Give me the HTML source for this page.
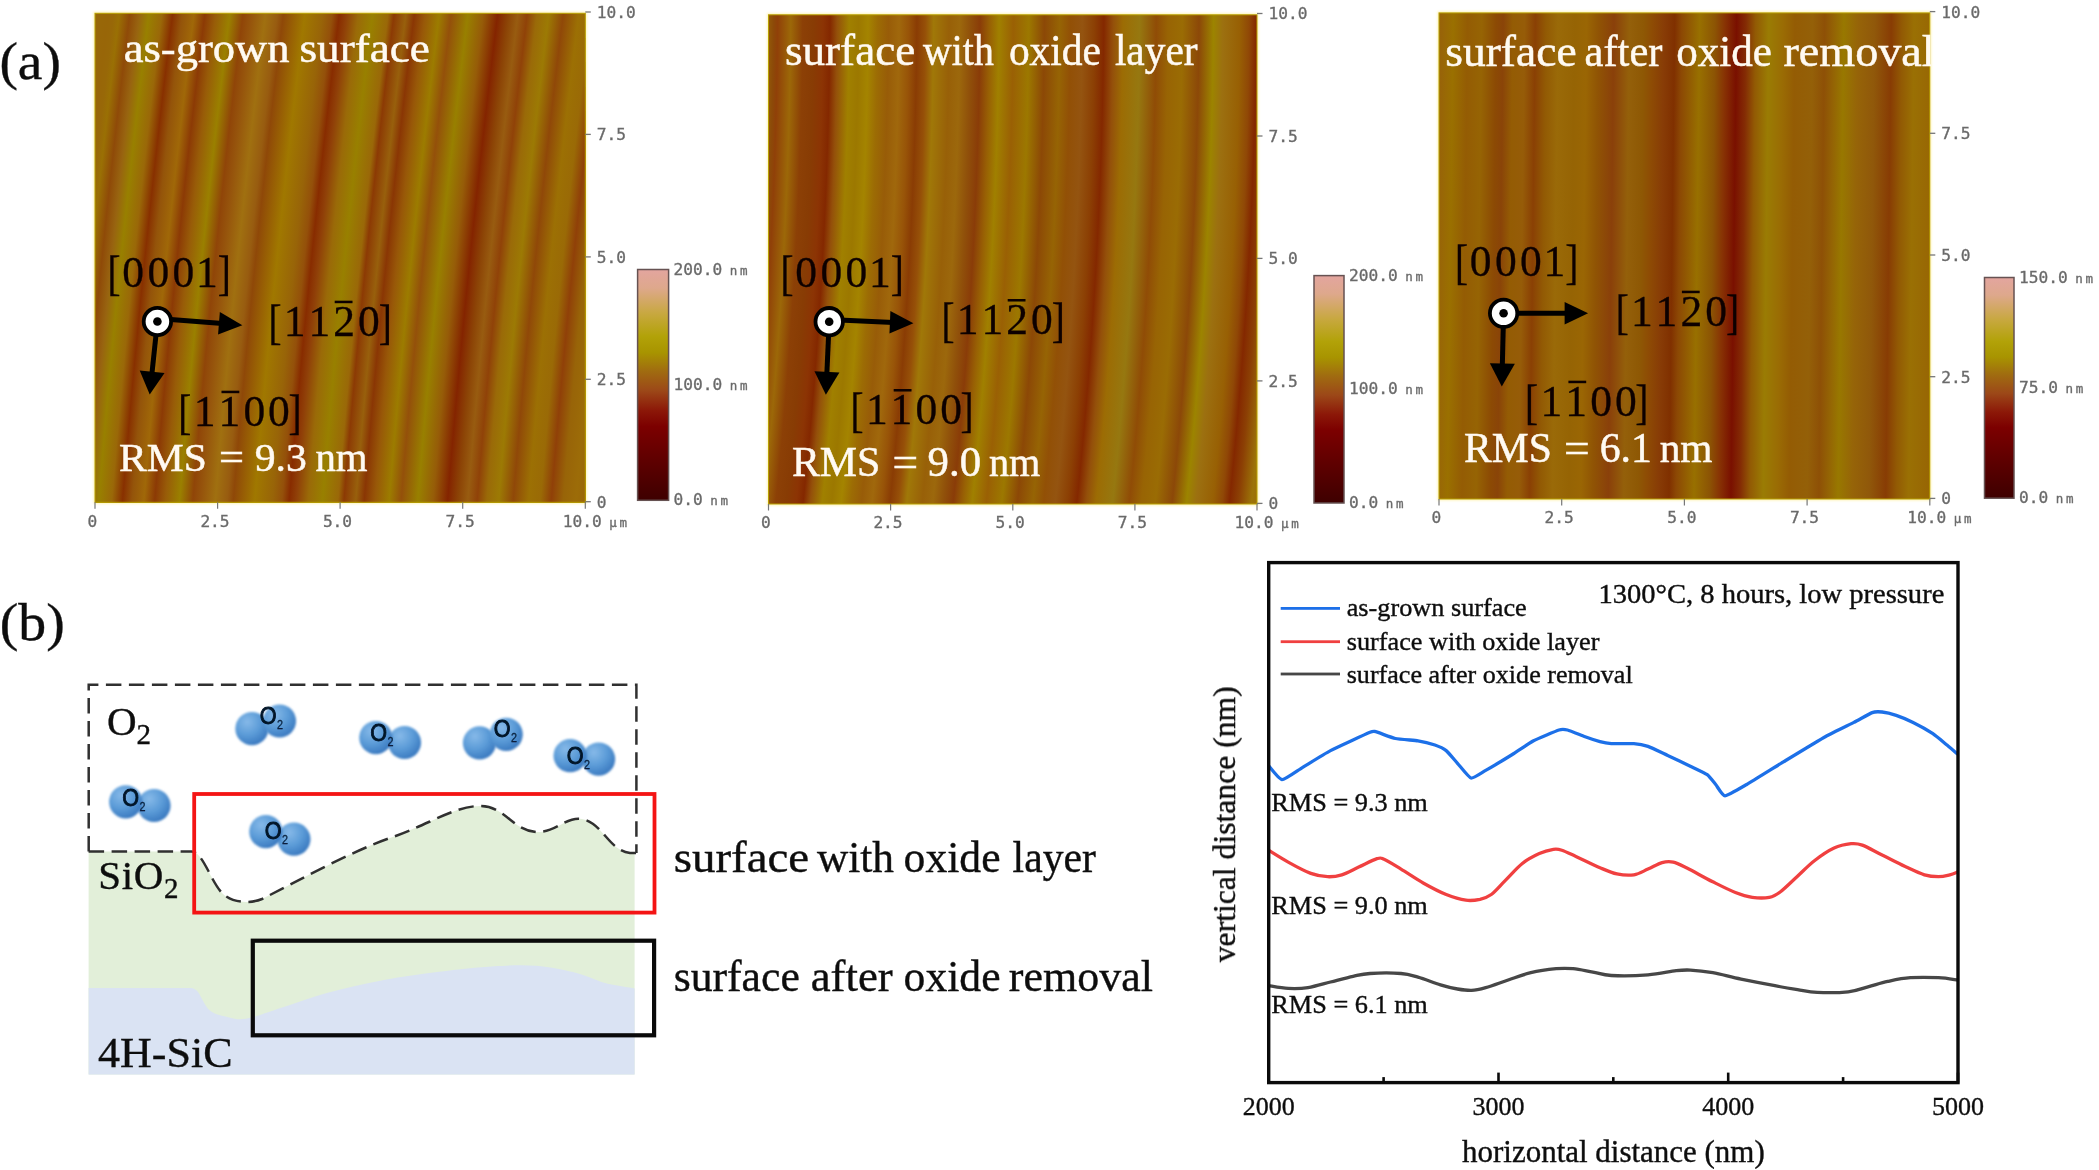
<!DOCTYPE html>
<html><head><meta charset="utf-8"><title>figure</title>
<style>
html,body{margin:0;padding:0;background:#fff;}
body{width:2099px;height:1170px;overflow:hidden;}
svg{display:block}
.se{font-family:"Liberation Serif",serif;}
.mo{font-family:"DejaVu Sans Mono","Liberation Mono",monospace;}
.sa{font-family:"Liberation Sans",sans-serif;}
</style></head><body>
<svg width="2099" height="1170" viewBox="0 0 2099 1170">
<defs>
<filter id="soft" x="-5%" y="-5%" width="110%" height="110%"><feGaussianBlur stdDeviation="1.2"/></filter>
<filter id="tb" x="-5%" y="-20%" width="110%" height="140%"><feGaussianBlur stdDeviation="0.55"/></filter>
<filter id="tbm" x="-5%" y="-20%" width="110%" height="140%"><feGaussianBlur stdDeviation="0.65"/></filter>
<filter id="tb2" x="-5%" y="-20%" width="110%" height="140%"><feGaussianBlur stdDeviation="0.8"/></filter>
<linearGradient id="afm1" gradientUnits="userSpaceOnUse" x1="40.00" y1="0" x2="635.00" y2="0"><stop offset="0.0000" stop-color="#986808"/><stop offset="0.0336" stop-color="#9a6c06"/><stop offset="0.0639" stop-color="#986808"/><stop offset="0.0840" stop-color="#986608"/><stop offset="0.0931" stop-color="#986808"/><stop offset="0.1025" stop-color="#9a7004"/><stop offset="0.1200" stop-color="#8f4a08"/><stop offset="0.1361" stop-color="#986410"/><stop offset="0.1521" stop-color="#988000"/><stop offset="0.1741" stop-color="#9a6808"/><stop offset="0.1921" stop-color="#883000"/><stop offset="0.2081" stop-color="#94540a"/><stop offset="0.2282" stop-color="#a06808"/><stop offset="0.2462" stop-color="#8c3a05"/><stop offset="0.2642" stop-color="#985c08"/><stop offset="0.2882" stop-color="#9a8000"/><stop offset="0.3103" stop-color="#904508"/><stop offset="0.3244" stop-color="#96540c"/><stop offset="0.3482" stop-color="#a07010"/><stop offset="0.3682" stop-color="#985c10"/><stop offset="0.3783" stop-color="#8f4808"/><stop offset="0.3963" stop-color="#986004"/><stop offset="0.4143" stop-color="#a07800"/><stop offset="0.4444" stop-color="#986408"/><stop offset="0.4603" stop-color="#94500a"/><stop offset="0.4723" stop-color="#882c00"/><stop offset="0.4844" stop-color="#904008"/><stop offset="0.5042" stop-color="#9a6a08"/><stop offset="0.5282" stop-color="#988000"/><stop offset="0.5543" stop-color="#9a6808"/><stop offset="0.5642" stop-color="#8c3a04"/><stop offset="0.5842" stop-color="#98600c"/><stop offset="0.5983" stop-color="#8a3604"/><stop offset="0.6163" stop-color="#985808"/><stop offset="0.6403" stop-color="#9c7c00"/><stop offset="0.6603" stop-color="#94500a"/><stop offset="0.6884" stop-color="#988000"/><stop offset="0.7143" stop-color="#965c08"/><stop offset="0.7385" stop-color="#842400"/><stop offset="0.7563" stop-color="#8c4406"/><stop offset="0.7724" stop-color="#985c10"/><stop offset="0.7882" stop-color="#904208"/><stop offset="0.8045" stop-color="#9a6a08"/><stop offset="0.8245" stop-color="#9c7a04"/><stop offset="0.8486" stop-color="#904808"/><stop offset="0.8745" stop-color="#9c7004"/><stop offset="0.8946" stop-color="#9a6a06"/><stop offset="0.9126" stop-color="#904008"/><stop offset="0.9328" stop-color="#986408"/><stop offset="0.9546" stop-color="#9c6c08"/><stop offset="0.9748" stop-color="#986408"/><stop offset="1.0000" stop-color="#986408"/></linearGradient>
<linearGradient id="afm1_0" href="#afm1" gradientTransform="matrix(1 0 -0.12301 1 20.005 0)"/>
<linearGradient id="afm1_1" href="#afm1" gradientTransform="matrix(1 0 -0.12089 1 19.925 0)"/>
<linearGradient id="afm1_2" href="#afm1" gradientTransform="matrix(1 0 -0.11876 1 19.793 0)"/>
<linearGradient id="afm1_3" href="#afm1" gradientTransform="matrix(1 0 -0.11664 1 19.609 0)"/>
<linearGradient id="afm1_4" href="#afm1" gradientTransform="matrix(1 0 -0.11452 1 19.373 0)"/>
<linearGradient id="afm1_5" href="#afm1" gradientTransform="matrix(1 0 -0.11239 1 19.085 0)"/>
<linearGradient id="afm1_6" href="#afm1" gradientTransform="matrix(1 0 -0.11027 1 18.745 0)"/>
<linearGradient id="afm1_7" href="#afm1" gradientTransform="matrix(1 0 -0.10814 1 18.353 0)"/>
<linearGradient id="afm1_8" href="#afm1" gradientTransform="matrix(1 0 -0.10602 1 17.910 0)"/>
<linearGradient id="afm1_9" href="#afm1" gradientTransform="matrix(1 0 -0.10389 1 17.414 0)"/>
<linearGradient id="afm1_10" href="#afm1" gradientTransform="matrix(1 0 -0.10177 1 16.866 0)"/>
<linearGradient id="afm1_11" href="#afm1" gradientTransform="matrix(1 0 -0.09965 1 16.267 0)"/>
<linearGradient id="afm1_12" href="#afm1" gradientTransform="matrix(1 0 -0.09752 1 15.615 0)"/>
<linearGradient id="afm1_13" href="#afm1" gradientTransform="matrix(1 0 -0.09540 1 14.912 0)"/>
<linearGradient id="afm1_14" href="#afm1" gradientTransform="matrix(1 0 -0.09327 1 14.156 0)"/>
<linearGradient id="afm1_15" href="#afm1" gradientTransform="matrix(1 0 -0.09115 1 13.349 0)"/>
<linearGradient id="afm1_16" href="#afm1" gradientTransform="matrix(1 0 -0.08902 1 12.490 0)"/>
<linearGradient id="afm1_17" href="#afm1" gradientTransform="matrix(1 0 -0.08690 1 11.579 0)"/>
<linearGradient id="afm1_18" href="#afm1" gradientTransform="matrix(1 0 -0.08478 1 10.616 0)"/>
<linearGradient id="afm1_19" href="#afm1" gradientTransform="matrix(1 0 -0.08265 1 9.600 0)"/>
<linearGradient id="afm2" gradientUnits="userSpaceOnUse" x1="715.00" y1="0" x2="1305.00" y2="0"><stop offset="0.0000" stop-color="#986008"/><stop offset="0.0339" stop-color="#9c7404"/><stop offset="0.0593" stop-color="#8c4006"/><stop offset="0.0797" stop-color="#986408"/><stop offset="0.0934" stop-color="#8c4a08"/><stop offset="0.1005" stop-color="#904008"/><stop offset="0.1227" stop-color="#9c6808"/><stop offset="0.1429" stop-color="#8c4006"/><stop offset="0.1610" stop-color="#883c04"/><stop offset="0.1773" stop-color="#8c3404"/><stop offset="0.1893" stop-color="#842800"/><stop offset="0.2014" stop-color="#94500a"/><stop offset="0.2217" stop-color="#a08000"/><stop offset="0.2378" stop-color="#9c7800"/><stop offset="0.2539" stop-color="#a48400"/><stop offset="0.2700" stop-color="#9c6c04"/><stop offset="0.2883" stop-color="#985c08"/><stop offset="0.3064" stop-color="#a0680c"/><stop offset="0.3225" stop-color="#985408"/><stop offset="0.3366" stop-color="#8a3c04"/><stop offset="0.3508" stop-color="#965008"/><stop offset="0.3649" stop-color="#a07808"/><stop offset="0.3912" stop-color="#986008"/><stop offset="0.4093" stop-color="#9c680c"/><stop offset="0.4275" stop-color="#90500a"/><stop offset="0.4437" stop-color="#8a3c08"/><stop offset="0.4598" stop-color="#986004"/><stop offset="0.4759" stop-color="#a08000"/><stop offset="0.5000" stop-color="#9a6004"/><stop offset="0.5263" stop-color="#9c7800"/><stop offset="0.5525" stop-color="#8c4806"/><stop offset="0.5788" stop-color="#966404"/><stop offset="0.5969" stop-color="#925006"/><stop offset="0.6171" stop-color="#945410"/><stop offset="0.6373" stop-color="#8c4004"/><stop offset="0.6534" stop-color="#842800"/><stop offset="0.6695" stop-color="#94500a"/><stop offset="0.6858" stop-color="#9c6c04"/><stop offset="0.7141" stop-color="#967810"/><stop offset="0.7422" stop-color="#904c06"/><stop offset="0.7624" stop-color="#986404"/><stop offset="0.7866" stop-color="#9a6c04"/><stop offset="0.8149" stop-color="#8c4808"/><stop offset="0.8392" stop-color="#9c8400"/><stop offset="0.8553" stop-color="#9c7010"/><stop offset="0.8836" stop-color="#986004"/><stop offset="0.8997" stop-color="#904806"/><stop offset="0.9119" stop-color="#842800"/><stop offset="0.9271" stop-color="#8c4004"/><stop offset="0.9492" stop-color="#9c7408"/><stop offset="0.9746" stop-color="#986408"/><stop offset="1.0000" stop-color="#986408"/></linearGradient>
<linearGradient id="afm2_0" href="#afm2" gradientTransform="matrix(1 0 -0.00834 1 3.487 0)"/>
<linearGradient id="afm2_1" href="#afm2" gradientTransform="matrix(1 0 -0.01329 1 3.681 0)"/>
<linearGradient id="afm2_2" href="#afm2" gradientTransform="matrix(1 0 -0.01824 1 3.997 0)"/>
<linearGradient id="afm2_3" href="#afm2" gradientTransform="matrix(1 0 -0.02320 1 4.434 0)"/>
<linearGradient id="afm2_4" href="#afm2" gradientTransform="matrix(1 0 -0.02815 1 4.992 0)"/>
<linearGradient id="afm2_5" href="#afm2" gradientTransform="matrix(1 0 -0.03310 1 5.671 0)"/>
<linearGradient id="afm2_6" href="#afm2" gradientTransform="matrix(1 0 -0.03806 1 6.471 0)"/>
<linearGradient id="afm2_7" href="#afm2" gradientTransform="matrix(1 0 -0.04301 1 7.393 0)"/>
<linearGradient id="afm2_8" href="#afm2" gradientTransform="matrix(1 0 -0.04796 1 8.435 0)"/>
<linearGradient id="afm2_9" href="#afm2" gradientTransform="matrix(1 0 -0.05292 1 9.599 0)"/>
<linearGradient id="afm2_10" href="#afm2" gradientTransform="matrix(1 0 -0.05787 1 10.884 0)"/>
<linearGradient id="afm2_11" href="#afm2" gradientTransform="matrix(1 0 -0.06283 1 12.290 0)"/>
<linearGradient id="afm2_12" href="#afm2" gradientTransform="matrix(1 0 -0.06778 1 13.818 0)"/>
<linearGradient id="afm2_13" href="#afm2" gradientTransform="matrix(1 0 -0.07273 1 15.466 0)"/>
<linearGradient id="afm2_14" href="#afm2" gradientTransform="matrix(1 0 -0.07769 1 17.236 0)"/>
<linearGradient id="afm2_15" href="#afm2" gradientTransform="matrix(1 0 -0.08264 1 19.126 0)"/>
<linearGradient id="afm2_16" href="#afm2" gradientTransform="matrix(1 0 -0.08759 1 21.138 0)"/>
<linearGradient id="afm2_17" href="#afm2" gradientTransform="matrix(1 0 -0.09255 1 23.272 0)"/>
<linearGradient id="afm2_18" href="#afm2" gradientTransform="matrix(1 0 -0.09750 1 25.526 0)"/>
<linearGradient id="afm2_19" href="#afm2" gradientTransform="matrix(1 0 -0.10245 1 27.901 0)"/>
<linearGradient id="afm3" gradientUnits="userSpaceOnUse" x1="1425.00" y1="0" x2="1945.00" y2="0"><stop offset="0.0000" stop-color="#946008"/><stop offset="0.0288" stop-color="#986408"/><stop offset="0.0508" stop-color="#9a7000"/><stop offset="0.0783" stop-color="#945c04"/><stop offset="0.1058" stop-color="#966404"/><stop offset="0.1333" stop-color="#8c4a04"/><stop offset="0.1471" stop-color="#8a4408"/><stop offset="0.1654" stop-color="#945c04"/><stop offset="0.1883" stop-color="#965c08"/><stop offset="0.2088" stop-color="#8a4004"/><stop offset="0.2294" stop-color="#925a04"/><stop offset="0.2525" stop-color="#9a6a08"/><stop offset="0.2844" stop-color="#966404"/><stop offset="0.3073" stop-color="#9a6604"/><stop offset="0.3302" stop-color="#905404"/><stop offset="0.3600" stop-color="#8a400a"/><stop offset="0.3898" stop-color="#94600a"/><stop offset="0.4173" stop-color="#8e5804"/><stop offset="0.4333" stop-color="#8e4c04"/><stop offset="0.4563" stop-color="#883c06"/><stop offset="0.4769" stop-color="#803000"/><stop offset="0.4904" stop-color="#8c4804"/><stop offset="0.5248" stop-color="#987000"/><stop offset="0.5544" stop-color="#8c5404"/><stop offset="0.5729" stop-color="#883404"/><stop offset="0.5958" stop-color="#7a1000"/><stop offset="0.6140" stop-color="#842c04"/><stop offset="0.6323" stop-color="#925a04"/><stop offset="0.6577" stop-color="#9a7c04"/><stop offset="0.6850" stop-color="#9a6c04"/><stop offset="0.7079" stop-color="#945c04"/><stop offset="0.7423" stop-color="#946008"/><stop offset="0.7652" stop-color="#8e5006"/><stop offset="0.7837" stop-color="#946404"/><stop offset="0.8019" stop-color="#987800"/><stop offset="0.8294" stop-color="#966408"/><stop offset="0.8615" stop-color="#90580a"/><stop offset="0.8935" stop-color="#883c04"/><stop offset="0.9140" stop-color="#925a04"/><stop offset="0.9371" stop-color="#9a7004"/><stop offset="0.9667" stop-color="#986804"/><stop offset="1.0000" stop-color="#946004"/></linearGradient>
<linearGradient id="afm3_0" href="#afm3" gradientTransform="matrix(1 0 -0.01200 1 2.040 0)"/>
<linearGradient id="afm3_1" href="#afm3" gradientTransform="matrix(1 0 -0.01200 1 2.040 0)"/>
<linearGradient id="afm3_2" href="#afm3" gradientTransform="matrix(1 0 -0.01200 1 2.040 0)"/>
<linearGradient id="afm3_3" href="#afm3" gradientTransform="matrix(1 0 -0.01200 1 2.040 0)"/>
<linearGradient id="afm3_4" href="#afm3" gradientTransform="matrix(1 0 -0.01200 1 2.040 0)"/>
<linearGradient id="afm3_5" href="#afm3" gradientTransform="matrix(1 0 -0.01200 1 2.040 0)"/>
<linearGradient id="afm3_6" href="#afm3" gradientTransform="matrix(1 0 -0.01200 1 2.040 0)"/>
<linearGradient id="afm3_7" href="#afm3" gradientTransform="matrix(1 0 -0.01200 1 2.040 0)"/>
<linearGradient id="afm3_8" href="#afm3" gradientTransform="matrix(1 0 -0.01200 1 2.040 0)"/>
<linearGradient id="afm3_9" href="#afm3" gradientTransform="matrix(1 0 -0.01200 1 2.040 0)"/>
<linearGradient id="afm3_10" href="#afm3" gradientTransform="matrix(1 0 -0.01200 1 2.040 0)"/>
<linearGradient id="afm3_11" href="#afm3" gradientTransform="matrix(1 0 -0.01200 1 2.040 0)"/>
<linearGradient id="afm3_12" href="#afm3" gradientTransform="matrix(1 0 -0.01200 1 2.040 0)"/>
<linearGradient id="afm3_13" href="#afm3" gradientTransform="matrix(1 0 -0.01200 1 2.040 0)"/>
<linearGradient id="afm3_14" href="#afm3" gradientTransform="matrix(1 0 -0.01200 1 2.040 0)"/>
<linearGradient id="afm3_15" href="#afm3" gradientTransform="matrix(1 0 -0.01200 1 2.040 0)"/>
<linearGradient id="afm3_16" href="#afm3" gradientTransform="matrix(1 0 -0.01200 1 2.040 0)"/>
<linearGradient id="afm3_17" href="#afm3" gradientTransform="matrix(1 0 -0.01200 1 2.040 0)"/>
<linearGradient id="afm3_18" href="#afm3" gradientTransform="matrix(1 0 -0.01200 1 2.040 0)"/>
<linearGradient id="afm3_19" href="#afm3" gradientTransform="matrix(1 0 -0.01200 1 2.040 0)"/>
<linearGradient id="cbar" x1="0" y1="0" x2="0" y2="1"><stop offset="0" stop-color="#e3a59f"/><stop offset="0.08" stop-color="#dea88c"/><stop offset="0.19" stop-color="#c8a840"/><stop offset="0.29" stop-color="#b2a208"/><stop offset="0.36" stop-color="#a89400"/><stop offset="0.44" stop-color="#a06c10"/><stop offset="0.525" stop-color="#9c4818"/><stop offset="0.61" stop-color="#8c1808"/><stop offset="0.68" stop-color="#7c0000"/><stop offset="0.82" stop-color="#600000"/><stop offset="1" stop-color="#3e0000"/></linearGradient>
<radialGradient id="ball" cx="0.36" cy="0.30" r="0.78"><stop offset="0" stop-color="#86b9e8"/><stop offset="0.5" stop-color="#5c9cd8"/><stop offset="1" stop-color="#3574bc"/></radialGradient>
</defs>
<rect width="2099" height="1170" fill="#fff"/>
<rect x="93.5" y="11.8" width="493.3" height="492.0" fill="#fff4b8" filter="url(#soft)"/>
<rect x="95.0" y="13.30" width="490.3" height="489.00" fill="url(#afm1_0)"/>
<rect x="95.0" y="38.00" width="490.3" height="464.30" fill="url(#afm1_1)"/>
<rect x="95.0" y="62.00" width="490.3" height="440.30" fill="url(#afm1_2)"/>
<rect x="95.0" y="87.00" width="490.3" height="415.30" fill="url(#afm1_3)"/>
<rect x="95.0" y="111.00" width="490.3" height="391.30" fill="url(#afm1_4)"/>
<rect x="95.0" y="136.00" width="490.3" height="366.30" fill="url(#afm1_5)"/>
<rect x="95.0" y="160.00" width="490.3" height="342.30" fill="url(#afm1_6)"/>
<rect x="95.0" y="184.00" width="490.3" height="318.30" fill="url(#afm1_7)"/>
<rect x="95.0" y="209.00" width="490.3" height="293.30" fill="url(#afm1_8)"/>
<rect x="95.0" y="233.00" width="490.3" height="269.30" fill="url(#afm1_9)"/>
<rect x="95.0" y="258.00" width="490.3" height="244.30" fill="url(#afm1_10)"/>
<rect x="95.0" y="282.00" width="490.3" height="220.30" fill="url(#afm1_11)"/>
<rect x="95.0" y="307.00" width="490.3" height="195.30" fill="url(#afm1_12)"/>
<rect x="95.0" y="331.00" width="490.3" height="171.30" fill="url(#afm1_13)"/>
<rect x="95.0" y="356.00" width="490.3" height="146.30" fill="url(#afm1_14)"/>
<rect x="95.0" y="380.00" width="490.3" height="122.30" fill="url(#afm1_15)"/>
<rect x="95.0" y="404.00" width="490.3" height="98.30" fill="url(#afm1_16)"/>
<rect x="95.0" y="429.00" width="490.3" height="73.30" fill="url(#afm1_17)"/>
<rect x="95.0" y="453.00" width="490.3" height="49.30" fill="url(#afm1_18)"/>
<rect x="95.0" y="478.00" width="490.3" height="24.30" fill="url(#afm1_19)"/>
<rect x="95.0" y="13.3" width="490.3" height="489.0" fill="none" stroke="#b8a000" stroke-width="1"/>
<rect x="767.0" y="13.3" width="491.5" height="492.2" fill="#fff4b8" filter="url(#soft)"/>
<rect x="768.5" y="14.80" width="488.5" height="489.20" fill="url(#afm2_0)"/>
<rect x="768.5" y="39.00" width="488.5" height="465.00" fill="url(#afm2_1)"/>
<rect x="768.5" y="64.00" width="488.5" height="440.00" fill="url(#afm2_2)"/>
<rect x="768.5" y="88.00" width="488.5" height="416.00" fill="url(#afm2_3)"/>
<rect x="768.5" y="113.00" width="488.5" height="391.00" fill="url(#afm2_4)"/>
<rect x="768.5" y="137.00" width="488.5" height="367.00" fill="url(#afm2_5)"/>
<rect x="768.5" y="162.00" width="488.5" height="342.00" fill="url(#afm2_6)"/>
<rect x="768.5" y="186.00" width="488.5" height="318.00" fill="url(#afm2_7)"/>
<rect x="768.5" y="210.00" width="488.5" height="294.00" fill="url(#afm2_8)"/>
<rect x="768.5" y="235.00" width="488.5" height="269.00" fill="url(#afm2_9)"/>
<rect x="768.5" y="259.00" width="488.5" height="245.00" fill="url(#afm2_10)"/>
<rect x="768.5" y="284.00" width="488.5" height="220.00" fill="url(#afm2_11)"/>
<rect x="768.5" y="308.00" width="488.5" height="196.00" fill="url(#afm2_12)"/>
<rect x="768.5" y="333.00" width="488.5" height="171.00" fill="url(#afm2_13)"/>
<rect x="768.5" y="357.00" width="488.5" height="147.00" fill="url(#afm2_14)"/>
<rect x="768.5" y="382.00" width="488.5" height="122.00" fill="url(#afm2_15)"/>
<rect x="768.5" y="406.00" width="488.5" height="98.00" fill="url(#afm2_16)"/>
<rect x="768.5" y="431.00" width="488.5" height="73.00" fill="url(#afm2_17)"/>
<rect x="768.5" y="455.00" width="488.5" height="49.00" fill="url(#afm2_18)"/>
<rect x="768.5" y="480.00" width="488.5" height="24.00" fill="url(#afm2_19)"/>
<rect x="768.5" y="14.8" width="488.5" height="489.2" fill="none" stroke="#b8a000" stroke-width="1"/>
<rect x="1437.5" y="11.4" width="493.8" height="489.1" fill="#fff4b8" filter="url(#soft)"/>
<rect x="1439.0" y="12.90" width="490.8" height="486.10" fill="url(#afm3_0)"/>
<rect x="1439.0" y="37.00" width="490.8" height="462.00" fill="url(#afm3_1)"/>
<rect x="1439.0" y="62.00" width="490.8" height="437.00" fill="url(#afm3_2)"/>
<rect x="1439.0" y="86.00" width="490.8" height="413.00" fill="url(#afm3_3)"/>
<rect x="1439.0" y="110.00" width="490.8" height="389.00" fill="url(#afm3_4)"/>
<rect x="1439.0" y="134.00" width="490.8" height="365.00" fill="url(#afm3_5)"/>
<rect x="1439.0" y="159.00" width="490.8" height="340.00" fill="url(#afm3_6)"/>
<rect x="1439.0" y="183.00" width="490.8" height="316.00" fill="url(#afm3_7)"/>
<rect x="1439.0" y="207.00" width="490.8" height="292.00" fill="url(#afm3_8)"/>
<rect x="1439.0" y="232.00" width="490.8" height="267.00" fill="url(#afm3_9)"/>
<rect x="1439.0" y="256.00" width="490.8" height="243.00" fill="url(#afm3_10)"/>
<rect x="1439.0" y="280.00" width="490.8" height="219.00" fill="url(#afm3_11)"/>
<rect x="1439.0" y="305.00" width="490.8" height="194.00" fill="url(#afm3_12)"/>
<rect x="1439.0" y="329.00" width="490.8" height="170.00" fill="url(#afm3_13)"/>
<rect x="1439.0" y="353.00" width="490.8" height="146.00" fill="url(#afm3_14)"/>
<rect x="1439.0" y="377.00" width="490.8" height="122.00" fill="url(#afm3_15)"/>
<rect x="1439.0" y="402.00" width="490.8" height="97.00" fill="url(#afm3_16)"/>
<rect x="1439.0" y="426.00" width="490.8" height="73.00" fill="url(#afm3_17)"/>
<rect x="1439.0" y="450.00" width="490.8" height="49.00" fill="url(#afm3_18)"/>
<rect x="1439.0" y="475.00" width="490.8" height="24.00" fill="url(#afm3_19)"/>
<rect x="1439.0" y="12.9" width="490.8" height="486.1" fill="none" stroke="#b8a000" stroke-width="1"/>
<line x1="95.0" y1="502.3" x2="95.0" y2="508.8" stroke="#777" stroke-width="1.2"/>
<text class="mo" x="92.4" y="526.7" font-size="16.2" fill="#686868" stroke="#707070" stroke-width="0.35" text-anchor="middle" filter="url(#tbm)" xml:space="preserve">0</text>
<line x1="217.6" y1="502.3" x2="217.6" y2="508.8" stroke="#777" stroke-width="1.2"/>
<text class="mo" x="215.0" y="526.7" font-size="16.2" fill="#686868" stroke="#707070" stroke-width="0.35" text-anchor="middle" filter="url(#tbm)" xml:space="preserve">2.5</text>
<line x1="340.1" y1="502.3" x2="340.1" y2="508.8" stroke="#777" stroke-width="1.2"/>
<text class="mo" x="337.5" y="526.7" font-size="16.2" fill="#686868" stroke="#707070" stroke-width="0.35" text-anchor="middle" filter="url(#tbm)" xml:space="preserve">5.0</text>
<line x1="462.7" y1="502.3" x2="462.7" y2="508.8" stroke="#777" stroke-width="1.2"/>
<text class="mo" x="460.1" y="526.7" font-size="16.2" fill="#686868" stroke="#707070" stroke-width="0.35" text-anchor="middle" filter="url(#tbm)" xml:space="preserve">7.5</text>
<line x1="585.3" y1="502.3" x2="585.3" y2="508.8" stroke="#777" stroke-width="1.2"/>
<text class="mo" x="562.7" y="526.7" font-size="16.2" fill="#686868" stroke="#707070" stroke-width="0.35" text-anchor="start" filter="url(#tbm)" xml:space="preserve">10.0<tspan dx="7.5" font-size="12.5" letter-spacing="2.8">µm</tspan></text>
<line x1="585.3" y1="501.7" x2="590.8" y2="501.7" stroke="#777" stroke-width="1.3"/>
<text class="mo" x="596.8" y="507.6" font-size="16.2" fill="#686868" stroke="#707070" stroke-width="0.35" text-anchor="start" filter="url(#tbm)" xml:space="preserve">0</text>
<line x1="585.3" y1="379.3" x2="590.8" y2="379.3" stroke="#777" stroke-width="1.3"/>
<text class="mo" x="596.8" y="385.2" font-size="16.2" fill="#686868" stroke="#707070" stroke-width="0.35" text-anchor="start" filter="url(#tbm)" xml:space="preserve">2.5</text>
<line x1="585.3" y1="256.9" x2="590.8" y2="256.9" stroke="#777" stroke-width="1.3"/>
<text class="mo" x="596.8" y="262.8" font-size="16.2" fill="#686868" stroke="#707070" stroke-width="0.35" text-anchor="start" filter="url(#tbm)" xml:space="preserve">5.0</text>
<line x1="585.3" y1="134.4" x2="590.8" y2="134.4" stroke="#777" stroke-width="1.3"/>
<text class="mo" x="596.8" y="140.3" font-size="16.2" fill="#686868" stroke="#707070" stroke-width="0.35" text-anchor="start" filter="url(#tbm)" xml:space="preserve">7.5</text>
<line x1="585.3" y1="12.0" x2="590.8" y2="12.0" stroke="#777" stroke-width="1.3"/>
<text class="mo" x="596.8" y="17.9" font-size="16.2" fill="#686868" stroke="#707070" stroke-width="0.35" text-anchor="start" filter="url(#tbm)" xml:space="preserve">10.0</text>
<line x1="768.5" y1="504.0" x2="768.5" y2="510.5" stroke="#777" stroke-width="1.2"/>
<text class="mo" x="765.9" y="528.4" font-size="16.2" fill="#686868" stroke="#707070" stroke-width="0.35" text-anchor="middle" filter="url(#tbm)" xml:space="preserve">0</text>
<line x1="890.6" y1="504.0" x2="890.6" y2="510.5" stroke="#777" stroke-width="1.2"/>
<text class="mo" x="888.0" y="528.4" font-size="16.2" fill="#686868" stroke="#707070" stroke-width="0.35" text-anchor="middle" filter="url(#tbm)" xml:space="preserve">2.5</text>
<line x1="1012.8" y1="504.0" x2="1012.8" y2="510.5" stroke="#777" stroke-width="1.2"/>
<text class="mo" x="1010.1" y="528.4" font-size="16.2" fill="#686868" stroke="#707070" stroke-width="0.35" text-anchor="middle" filter="url(#tbm)" xml:space="preserve">5.0</text>
<line x1="1134.9" y1="504.0" x2="1134.9" y2="510.5" stroke="#777" stroke-width="1.2"/>
<text class="mo" x="1132.3" y="528.4" font-size="16.2" fill="#686868" stroke="#707070" stroke-width="0.35" text-anchor="middle" filter="url(#tbm)" xml:space="preserve">7.5</text>
<line x1="1257.0" y1="504.0" x2="1257.0" y2="510.5" stroke="#777" stroke-width="1.2"/>
<text class="mo" x="1234.4" y="528.4" font-size="16.2" fill="#686868" stroke="#707070" stroke-width="0.35" text-anchor="start" filter="url(#tbm)" xml:space="preserve">10.0<tspan dx="7.5" font-size="12.5" letter-spacing="2.8">µm</tspan></text>
<line x1="1257.0" y1="503.4" x2="1262.5" y2="503.4" stroke="#777" stroke-width="1.3"/>
<text class="mo" x="1268.5" y="509.3" font-size="16.2" fill="#686868" stroke="#707070" stroke-width="0.35" text-anchor="start" filter="url(#tbm)" xml:space="preserve">0</text>
<line x1="1257.0" y1="380.9" x2="1262.5" y2="380.9" stroke="#777" stroke-width="1.3"/>
<text class="mo" x="1268.5" y="386.8" font-size="16.2" fill="#686868" stroke="#707070" stroke-width="0.35" text-anchor="start" filter="url(#tbm)" xml:space="preserve">2.5</text>
<line x1="1257.0" y1="258.4" x2="1262.5" y2="258.4" stroke="#777" stroke-width="1.3"/>
<text class="mo" x="1268.5" y="264.3" font-size="16.2" fill="#686868" stroke="#707070" stroke-width="0.35" text-anchor="start" filter="url(#tbm)" xml:space="preserve">5.0</text>
<line x1="1257.0" y1="136.0" x2="1262.5" y2="136.0" stroke="#777" stroke-width="1.3"/>
<text class="mo" x="1268.5" y="141.9" font-size="16.2" fill="#686868" stroke="#707070" stroke-width="0.35" text-anchor="start" filter="url(#tbm)" xml:space="preserve">7.5</text>
<line x1="1257.0" y1="13.5" x2="1262.5" y2="13.5" stroke="#777" stroke-width="1.3"/>
<text class="mo" x="1268.5" y="19.4" font-size="16.2" fill="#686868" stroke="#707070" stroke-width="0.35" text-anchor="start" filter="url(#tbm)" xml:space="preserve">10.0</text>
<line x1="1439.0" y1="499.0" x2="1439.0" y2="505.5" stroke="#777" stroke-width="1.2"/>
<text class="mo" x="1436.4" y="523.4" font-size="16.2" fill="#686868" stroke="#707070" stroke-width="0.35" text-anchor="middle" filter="url(#tbm)" xml:space="preserve">0</text>
<line x1="1561.7" y1="499.0" x2="1561.7" y2="505.5" stroke="#777" stroke-width="1.2"/>
<text class="mo" x="1559.1" y="523.4" font-size="16.2" fill="#686868" stroke="#707070" stroke-width="0.35" text-anchor="middle" filter="url(#tbm)" xml:space="preserve">2.5</text>
<line x1="1684.4" y1="499.0" x2="1684.4" y2="505.5" stroke="#777" stroke-width="1.2"/>
<text class="mo" x="1681.8" y="523.4" font-size="16.2" fill="#686868" stroke="#707070" stroke-width="0.35" text-anchor="middle" filter="url(#tbm)" xml:space="preserve">5.0</text>
<line x1="1807.1" y1="499.0" x2="1807.1" y2="505.5" stroke="#777" stroke-width="1.2"/>
<text class="mo" x="1804.5" y="523.4" font-size="16.2" fill="#686868" stroke="#707070" stroke-width="0.35" text-anchor="middle" filter="url(#tbm)" xml:space="preserve">7.5</text>
<line x1="1929.8" y1="499.0" x2="1929.8" y2="505.5" stroke="#777" stroke-width="1.2"/>
<text class="mo" x="1907.2" y="523.4" font-size="16.2" fill="#686868" stroke="#707070" stroke-width="0.35" text-anchor="start" filter="url(#tbm)" xml:space="preserve">10.0<tspan dx="7.5" font-size="12.5" letter-spacing="2.8">µm</tspan></text>
<line x1="1929.8" y1="498.4" x2="1935.3" y2="498.4" stroke="#777" stroke-width="1.3"/>
<text class="mo" x="1941.3" y="504.3" font-size="16.2" fill="#686868" stroke="#707070" stroke-width="0.35" text-anchor="start" filter="url(#tbm)" xml:space="preserve">0</text>
<line x1="1929.8" y1="376.7" x2="1935.3" y2="376.7" stroke="#777" stroke-width="1.3"/>
<text class="mo" x="1941.3" y="382.6" font-size="16.2" fill="#686868" stroke="#707070" stroke-width="0.35" text-anchor="start" filter="url(#tbm)" xml:space="preserve">2.5</text>
<line x1="1929.8" y1="255.0" x2="1935.3" y2="255.0" stroke="#777" stroke-width="1.3"/>
<text class="mo" x="1941.3" y="260.9" font-size="16.2" fill="#686868" stroke="#707070" stroke-width="0.35" text-anchor="start" filter="url(#tbm)" xml:space="preserve">5.0</text>
<line x1="1929.8" y1="133.3" x2="1935.3" y2="133.3" stroke="#777" stroke-width="1.3"/>
<text class="mo" x="1941.3" y="139.2" font-size="16.2" fill="#686868" stroke="#707070" stroke-width="0.35" text-anchor="start" filter="url(#tbm)" xml:space="preserve">7.5</text>
<line x1="1929.8" y1="11.6" x2="1935.3" y2="11.6" stroke="#777" stroke-width="1.3"/>
<text class="mo" x="1941.3" y="17.5" font-size="16.2" fill="#686868" stroke="#707070" stroke-width="0.35" text-anchor="start" filter="url(#tbm)" xml:space="preserve">10.0</text>
<rect x="637.6" y="269.5" width="31.0" height="230.8" fill="url(#cbar)" stroke="#665252" stroke-width="1.5"/>
<text class="mo" x="673.5" y="274.5" font-size="16.2" fill="#686868" stroke="#707070" stroke-width="0.35" text-anchor="start" filter="url(#tbm)" xml:space="preserve">200.0<tspan dx="7.5" font-size="12.5" letter-spacing="2.8">nm</tspan></text>
<text class="mo" x="673.5" y="389.9" font-size="16.2" fill="#686868" stroke="#707070" stroke-width="0.35" text-anchor="start" filter="url(#tbm)" xml:space="preserve">100.0<tspan dx="7.5" font-size="12.5" letter-spacing="2.8">nm</tspan></text>
<text class="mo" x="673.5" y="505.3" font-size="16.2" fill="#686868" stroke="#707070" stroke-width="0.35" text-anchor="start" filter="url(#tbm)" xml:space="preserve">0.0<tspan dx="7.5" font-size="12.5" letter-spacing="2.8">nm</tspan></text>
<rect x="1314.0" y="275.6" width="30.0" height="227.4" fill="url(#cbar)" stroke="#665252" stroke-width="1.5"/>
<text class="mo" x="1349.0" y="280.6" font-size="16.2" fill="#686868" stroke="#707070" stroke-width="0.35" text-anchor="start" filter="url(#tbm)" xml:space="preserve">200.0<tspan dx="7.5" font-size="12.5" letter-spacing="2.8">nm</tspan></text>
<text class="mo" x="1349.0" y="394.3" font-size="16.2" fill="#686868" stroke="#707070" stroke-width="0.35" text-anchor="start" filter="url(#tbm)" xml:space="preserve">100.0<tspan dx="7.5" font-size="12.5" letter-spacing="2.8">nm</tspan></text>
<text class="mo" x="1349.0" y="508.0" font-size="16.2" fill="#686868" stroke="#707070" stroke-width="0.35" text-anchor="start" filter="url(#tbm)" xml:space="preserve">0.0<tspan dx="7.5" font-size="12.5" letter-spacing="2.8">nm</tspan></text>
<rect x="1984.5" y="277.5" width="29.5" height="220.7" fill="url(#cbar)" stroke="#665252" stroke-width="1.5"/>
<text class="mo" x="2019.0" y="282.5" font-size="16.2" fill="#686868" stroke="#707070" stroke-width="0.35" text-anchor="start" filter="url(#tbm)" xml:space="preserve">150.0<tspan dx="7.5" font-size="12.5" letter-spacing="2.8">nm</tspan></text>
<text class="mo" x="2019.0" y="392.9" font-size="16.2" fill="#686868" stroke="#707070" stroke-width="0.35" text-anchor="start" filter="url(#tbm)" xml:space="preserve">75.0<tspan dx="7.5" font-size="12.5" letter-spacing="2.8">nm</tspan></text>
<text class="mo" x="2019.0" y="503.2" font-size="16.2" fill="#686868" stroke="#707070" stroke-width="0.35" text-anchor="start" filter="url(#tbm)" xml:space="preserve">0.0<tspan dx="7.5" font-size="12.5" letter-spacing="2.8">nm</tspan></text>
<g transform="translate(157.4 321.5) rotate(4.50)">
<line x1="10" y1="-3.0" x2="65.0" y2="-3.0" stroke="#000" stroke-width="5"/>
<polygon points="61.5,-14.3 85.0,-3.0 61.5,8.3" fill="#000"/>
</g>
<g transform="translate(157.4 321.5) rotate(6.00)">
<line x1="0.0" y1="10" x2="0.0" y2="53.5" stroke="#000" stroke-width="5"/>
<polygon points="-12.5,50.5 0.0,73.5 12.5,50.5" fill="#000"/>
</g>
<circle cx="157.4" cy="321.5" r="13.7" fill="#fff" stroke="#000" stroke-width="3.8"/>
<circle cx="157.4" cy="321.5" r="4.3" fill="#000"/>
<text class="se" x="122.2 147.6 172.6 195.9" y="286.5" font-size="43.5" fill="#0c0600" stroke="#0c0600" stroke-width="0.3" filter="url(#tb)">0001</text>
<g transform="translate(107.5 288.7) scale(0.8 1)"><text class="se" x="0" y="0" font-size="49.0" fill="#0c0600" stroke="#0c0600" stroke-width="0.3" filter="url(#tb)">[</text></g>
<g transform="translate(217.7 288.7) scale(0.8 1)"><text class="se" x="0" y="0" font-size="49.0" fill="#0c0600" stroke="#0c0600" stroke-width="0.3" filter="url(#tb)">]</text></g>
<text class="se" x="283.7 308.4 333.2 358.0" y="335.7" font-size="43.5" fill="#0c0600" stroke="#0c0600" stroke-width="0.3" filter="url(#tb)">1120</text>
<g transform="translate(268.5 337.9) scale(0.8 1)"><text class="se" x="0" y="0" font-size="49.0" fill="#0c0600" stroke="#0c0600" stroke-width="0.3" filter="url(#tb)">[</text></g>
<g transform="translate(378.7 337.9) scale(0.8 1)"><text class="se" x="0" y="0" font-size="49.0" fill="#0c0600" stroke="#0c0600" stroke-width="0.3" filter="url(#tb)">]</text></g>
<rect x="334.7" y="300.7" width="17.8" height="2.5" fill="#0c0600" filter="url(#tb)"/>
<text class="se" x="193.7 218.4 243.4 268.0" y="425.7" font-size="43.5" fill="#0c0600" stroke="#0c0600" stroke-width="0.3" filter="url(#tb)">1100</text>
<g transform="translate(178.2 427.9) scale(0.8 1)"><text class="se" x="0" y="0" font-size="49.0" fill="#0c0600" stroke="#0c0600" stroke-width="0.3" filter="url(#tb)">[</text></g>
<g transform="translate(288.4 427.9) scale(0.8 1)"><text class="se" x="0" y="0" font-size="49.0" fill="#0c0600" stroke="#0c0600" stroke-width="0.3" filter="url(#tb)">]</text></g>
<rect x="221.5" y="390.7" width="17.8" height="2.5" fill="#0c0600" filter="url(#tb)"/>
<g transform="translate(829.2 321.7) rotate(2.40)">
<line x1="10" y1="-2.0" x2="64.2" y2="-2.0" stroke="#000" stroke-width="5"/>
<polygon points="60.7,-13.3 84.2,-2.0 60.7,9.3" fill="#000"/>
</g>
<g transform="translate(829.2 321.7) rotate(2.60)">
<line x1="0.0" y1="10" x2="0.0" y2="53.2" stroke="#000" stroke-width="5"/>
<polygon points="-12.5,50.2 0.0,73.2 12.5,50.2" fill="#000"/>
</g>
<circle cx="829.2" cy="321.7" r="13.7" fill="#fff" stroke="#000" stroke-width="3.8"/>
<circle cx="829.2" cy="321.7" r="4.3" fill="#000"/>
<text class="se" x="795.2 820.6 845.6 868.9" y="286.5" font-size="43.5" fill="#0c0600" stroke="#0c0600" stroke-width="0.3" filter="url(#tb)">0001</text>
<g transform="translate(780.5 288.7) scale(0.8 1)"><text class="se" x="0" y="0" font-size="49.0" fill="#0c0600" stroke="#0c0600" stroke-width="0.3" filter="url(#tb)">[</text></g>
<g transform="translate(890.7 288.7) scale(0.8 1)"><text class="se" x="0" y="0" font-size="49.0" fill="#0c0600" stroke="#0c0600" stroke-width="0.3" filter="url(#tb)">]</text></g>
<text class="se" x="956.7 981.4 1006.2 1031.0" y="334.0" font-size="43.5" fill="#0c0600" stroke="#0c0600" stroke-width="0.3" filter="url(#tb)">1120</text>
<g transform="translate(941.5 336.2) scale(0.8 1)"><text class="se" x="0" y="0" font-size="49.0" fill="#0c0600" stroke="#0c0600" stroke-width="0.3" filter="url(#tb)">[</text></g>
<g transform="translate(1051.7 336.2) scale(0.8 1)"><text class="se" x="0" y="0" font-size="49.0" fill="#0c0600" stroke="#0c0600" stroke-width="0.3" filter="url(#tb)">]</text></g>
<rect x="1007.7" y="299.0" width="17.8" height="2.5" fill="#0c0600" filter="url(#tb)"/>
<text class="se" x="865.9 890.6 915.6 940.2" y="424.0" font-size="43.5" fill="#0c0600" stroke="#0c0600" stroke-width="0.3" filter="url(#tb)">1100</text>
<g transform="translate(850.4 426.2) scale(0.8 1)"><text class="se" x="0" y="0" font-size="49.0" fill="#0c0600" stroke="#0c0600" stroke-width="0.3" filter="url(#tb)">[</text></g>
<g transform="translate(960.6 426.2) scale(0.8 1)"><text class="se" x="0" y="0" font-size="49.0" fill="#0c0600" stroke="#0c0600" stroke-width="0.3" filter="url(#tb)">]</text></g>
<rect x="893.7" y="389.0" width="17.8" height="2.5" fill="#0c0600" filter="url(#tb)"/>
<g transform="translate(1503.6 313.3) rotate(0.00)">
<line x1="10" y1="0.0" x2="64.5" y2="0.0" stroke="#000" stroke-width="5"/>
<polygon points="61.0,-11.3 84.5,0.0 61.0,11.3" fill="#000"/>
</g>
<g transform="translate(1503.6 313.3) rotate(1.40)">
<line x1="0.0" y1="10" x2="0.0" y2="53.2" stroke="#000" stroke-width="5"/>
<polygon points="-12.5,50.2 0.0,73.2 12.5,50.2" fill="#000"/>
</g>
<circle cx="1503.6" cy="313.3" r="13.7" fill="#fff" stroke="#000" stroke-width="3.8"/>
<circle cx="1503.6" cy="313.3" r="4.3" fill="#000"/>
<text class="se" x="1469.7 1495.1 1520.1 1543.4" y="276.0" font-size="43.5" fill="#0c0600" stroke="#0c0600" stroke-width="0.3" filter="url(#tb)">0001</text>
<g transform="translate(1455.0 278.2) scale(0.8 1)"><text class="se" x="0" y="0" font-size="49.0" fill="#0c0600" stroke="#0c0600" stroke-width="0.3" filter="url(#tb)">[</text></g>
<g transform="translate(1565.2 278.2) scale(0.8 1)"><text class="se" x="0" y="0" font-size="49.0" fill="#0c0600" stroke="#0c0600" stroke-width="0.3" filter="url(#tb)">]</text></g>
<text class="se" x="1630.9 1655.6 1680.4 1705.2" y="325.7" font-size="43.5" fill="#0c0600" stroke="#0c0600" stroke-width="0.3" filter="url(#tb)">1120</text>
<g transform="translate(1615.7 327.9) scale(0.8 1)"><text class="se" x="0" y="0" font-size="49.0" fill="#0c0600" stroke="#0c0600" stroke-width="0.3" filter="url(#tb)">[</text></g>
<g transform="translate(1725.9 327.9) scale(0.8 1)"><text class="se" x="0" y="0" font-size="49.0" fill="#0c0600" stroke="#0c0600" stroke-width="0.3" filter="url(#tb)">]</text></g>
<rect x="1681.9" y="290.7" width="17.8" height="2.5" fill="#0c0600" filter="url(#tb)"/>
<text class="se" x="1540.6 1565.3 1590.3 1614.9" y="415.7" font-size="43.5" fill="#0c0600" stroke="#0c0600" stroke-width="0.3" filter="url(#tb)">1100</text>
<g transform="translate(1525.1 417.9) scale(0.8 1)"><text class="se" x="0" y="0" font-size="49.0" fill="#0c0600" stroke="#0c0600" stroke-width="0.3" filter="url(#tb)">[</text></g>
<g transform="translate(1635.3 417.9) scale(0.8 1)"><text class="se" x="0" y="0" font-size="49.0" fill="#0c0600" stroke="#0c0600" stroke-width="0.3" filter="url(#tb)">]</text></g>
<rect x="1568.4" y="380.7" width="17.8" height="2.5" fill="#0c0600" filter="url(#tb)"/>
<text class="se" x="123.7" y="61.8" font-size="40.5" fill="#fffaf2" textLength="165.8" lengthAdjust="spacingAndGlyphs" stroke="#fffaf2" stroke-width="0.5" filter="url(#tb)" xml:space="preserve">as-grown</text>
<text class="se" x="299.5" y="61.8" font-size="40.5" fill="#fffaf2" textLength="130.4" lengthAdjust="spacingAndGlyphs" stroke="#fffaf2" stroke-width="0.5" filter="url(#tb)" xml:space="preserve">surface</text>
<text class="se" x="119.0" y="471.2" font-size="40.0" fill="#fffaf2" textLength="87.8" lengthAdjust="spacingAndGlyphs" stroke="#fffaf2" stroke-width="0.5" filter="url(#tb)" xml:space="preserve">RMS</text>
<text class="se" x="219.0" y="471.2" font-size="40.0" fill="#fffaf2" textLength="25.0" lengthAdjust="spacingAndGlyphs" stroke="#fffaf2" stroke-width="0.5" filter="url(#tb)" xml:space="preserve">=</text>
<text class="se" x="254.7" y="471.2" font-size="40.0" fill="#fffaf2" textLength="52.1" lengthAdjust="spacingAndGlyphs" stroke="#fffaf2" stroke-width="0.5" filter="url(#tb)" xml:space="preserve">9.3</text>
<text class="se" x="315.4" y="471.2" font-size="40.0" fill="#fffaf2" textLength="52.1" lengthAdjust="spacingAndGlyphs" stroke="#fffaf2" stroke-width="0.5" filter="url(#tb)" xml:space="preserve">nm</text>
<text class="se" x="785.0" y="64.5" font-size="43.5" fill="#fffaf2" textLength="130.2" lengthAdjust="spacingAndGlyphs" stroke="#fffaf2" stroke-width="0.5" filter="url(#tb)" xml:space="preserve">surface</text>
<text class="se" x="923.1" y="64.5" font-size="43.5" fill="#fffaf2" textLength="70.7" lengthAdjust="spacingAndGlyphs" stroke="#fffaf2" stroke-width="0.5" filter="url(#tb)" xml:space="preserve">with</text>
<text class="se" x="1008.9" y="64.5" font-size="43.5" fill="#fffaf2" textLength="92.1" lengthAdjust="spacingAndGlyphs" stroke="#fffaf2" stroke-width="0.5" filter="url(#tb)" xml:space="preserve">oxide</text>
<text class="se" x="1114.9" y="64.5" font-size="43.5" fill="#fffaf2" textLength="82.6" lengthAdjust="spacingAndGlyphs" stroke="#fffaf2" stroke-width="0.5" filter="url(#tb)" xml:space="preserve">layer</text>
<text class="se" x="791.9" y="475.8" font-size="42.5" fill="#fffaf2" textLength="88.5" lengthAdjust="spacingAndGlyphs" stroke="#fffaf2" stroke-width="0.5" filter="url(#tb)" xml:space="preserve">RMS</text>
<text class="se" x="892.6" y="475.8" font-size="42.5" fill="#fffaf2" textLength="25.6" lengthAdjust="spacingAndGlyphs" stroke="#fffaf2" stroke-width="0.5" filter="url(#tb)" xml:space="preserve">=</text>
<text class="se" x="927.6" y="475.8" font-size="42.5" fill="#fffaf2" textLength="53.5" lengthAdjust="spacingAndGlyphs" stroke="#fffaf2" stroke-width="0.5" filter="url(#tb)" xml:space="preserve">9.0</text>
<text class="se" x="989.0" y="475.8" font-size="42.5" fill="#fffaf2" textLength="51.4" lengthAdjust="spacingAndGlyphs" stroke="#fffaf2" stroke-width="0.5" filter="url(#tb)" xml:space="preserve">nm</text>
<clipPath id="cp3"><rect x="1439" y="12" width="492" height="487"/></clipPath>
<g clip-path="url(#cp3)">
<text class="se" x="1445.2" y="66.4" font-size="43.5" fill="#fffaf2" textLength="131.4" lengthAdjust="spacingAndGlyphs" stroke="#fffaf2" stroke-width="0.5" filter="url(#tb)" xml:space="preserve">surface</text>
<text class="se" x="1584.6" y="66.4" font-size="43.5" fill="#fffaf2" textLength="77.8" lengthAdjust="spacingAndGlyphs" stroke="#fffaf2" stroke-width="0.5" filter="url(#tb)" xml:space="preserve">after</text>
<text class="se" x="1676.3" y="66.4" font-size="43.5" fill="#fffaf2" textLength="95.7" lengthAdjust="spacingAndGlyphs" stroke="#fffaf2" stroke-width="0.5" filter="url(#tb)" xml:space="preserve">oxide</text>
<text class="se" x="1783.5" y="66.4" font-size="43.5" fill="#fffaf2" textLength="151.1" lengthAdjust="spacingAndGlyphs" stroke="#fffaf2" stroke-width="0.5" filter="url(#tb)" xml:space="preserve">removal</text>
</g>
<text class="se" x="1464.0" y="462.4" font-size="43.0" fill="#fffaf2" textLength="87.8" lengthAdjust="spacingAndGlyphs" stroke="#fffaf2" stroke-width="0.5" filter="url(#tb)" xml:space="preserve">RMS</text>
<text class="se" x="1564.0" y="462.4" font-size="43.0" fill="#fffaf2" textLength="25.7" lengthAdjust="spacingAndGlyphs" stroke="#fffaf2" stroke-width="0.5" filter="url(#tb)" xml:space="preserve">=</text>
<text class="se" x="1599.7" y="462.4" font-size="43.0" fill="#fffaf2" textLength="52.1" lengthAdjust="spacingAndGlyphs" stroke="#fffaf2" stroke-width="0.5" filter="url(#tb)" xml:space="preserve">6.1</text>
<text class="se" x="1659.7" y="462.4" font-size="43.0" fill="#fffaf2" textLength="52.8" lengthAdjust="spacingAndGlyphs" stroke="#fffaf2" stroke-width="0.5" filter="url(#tb)" xml:space="preserve">nm</text>
<text class="se" x="-0.6" y="79.2" font-size="53.0" fill="#111" textLength="61.5" lengthAdjust="spacingAndGlyphs" stroke="#111" stroke-width="0.4" filter="url(#tb)" xml:space="preserve">(a)</text>
<text class="se" x="-0.3" y="639.8" font-size="53.5" fill="#111" textLength="65.0" lengthAdjust="spacingAndGlyphs" stroke="#111" stroke-width="0.4" filter="url(#tb)" xml:space="preserve">(b)</text>
<path d="M88.6,851.6 L191.5,851.6 C203,852 210,880 222,893 C232,903 250,904 262,899 C300,880 350,852 390,838 C430,824 455,806 480,806 C505,806 512,830 536,832 C556,833 566,816 582,819 C603,823 608,850 630,853 L634.6,853 L634.6,1074.6 L88.6,1074.6 Z" fill="#e2efd9"/>
<path d="M88.6,987.9 L192,987.9 C193.0,988.6 195.0,988.2 198.0,992.0 C201.0,995.8 204.7,1006.3 209.9,1010.5 C215.1,1014.7 223.2,1016.0 229.2,1017.4 C235.2,1018.8 238.4,1019.9 245.8,1018.8 C253.2,1017.6 259.6,1014.9 273.4,1010.5 C287.2,1006.1 310.3,997.7 328.7,992.6 C347.1,987.5 365.6,983.6 384.0,980.1 C402.4,976.6 420.8,974.1 439.2,971.8 C457.6,969.5 478.4,967.3 494.5,966.3 C510.6,965.3 522.1,964.6 535.9,965.8 C549.7,966.9 565.9,970.4 577.4,973.2 C588.9,976.1 595.5,980.4 605.0,982.9 C614.5,985.4 629.7,987.5 634.6,988.4 L634.6,1074.6 L88.6,1074.6 Z" fill="#dae3f3"/>
<path d="M88.7,851.6 L88.7,684.8 L636.4,684.8 L636.4,853" fill="none" stroke="#303030" stroke-width="2.5" stroke-dasharray="15.5 7.5"/>
<path d="M88.6,851.6 L191.5,851.6 C203,852 210,880 222,893 C232,903 250,904 262,899 C300,880 350,852 390,838 C430,824 455,806 480,806 C505,806 512,830 536,832 C556,833 566,816 582,819 C603,823 608,850 630,853 L634.6,853 L636.4,853" fill="none" stroke="#303030" stroke-width="2.5" stroke-dasharray="15.5 7.5"/>
<circle cx="251.9" cy="728.6" r="16.6" fill="url(#ball)" filter="url(#tb2)"/>
<circle cx="279.5" cy="721.0" r="16.6" fill="url(#ball)" filter="url(#tb2)"/>
<g transform="translate(268.3 715.7) scale(0.9 1)"><text class="sa" x="-9.4" y="8.6" font-size="24" fill="#061428" stroke="#061428" stroke-width="0.9" filter="url(#tb)">O<tspan font-size="12" dx="0.5" dy="5" stroke-width="0.3" fill="#0c2a50">2</tspan></text></g>
<circle cx="404.5" cy="742.5" r="16.6" fill="url(#ball)" filter="url(#tb2)"/>
<circle cx="375.8" cy="737.6" r="16.6" fill="url(#ball)" filter="url(#tb2)"/>
<g transform="translate(378.8 732.4) scale(0.9 1)"><text class="sa" x="-9.4" y="8.6" font-size="24" fill="#061428" stroke="#061428" stroke-width="0.9" filter="url(#tb)">O<tspan font-size="12" dx="0.5" dy="5" stroke-width="0.3" fill="#0c2a50">2</tspan></text></g>
<circle cx="479.5" cy="742.9" r="16.6" fill="url(#ball)" filter="url(#tb2)"/>
<circle cx="506.2" cy="734.3" r="16.6" fill="url(#ball)" filter="url(#tb2)"/>
<g transform="translate(502.1 728.0) scale(0.9 1)"><text class="sa" x="-9.4" y="8.6" font-size="24" fill="#061428" stroke="#061428" stroke-width="0.9" filter="url(#tb)">O<tspan font-size="12" dx="0.5" dy="5" stroke-width="0.3" fill="#0c2a50">2</tspan></text></g>
<circle cx="598.6" cy="759.1" r="16.6" fill="url(#ball)" filter="url(#tb2)"/>
<circle cx="570.1" cy="755.7" r="16.6" fill="url(#ball)" filter="url(#tb2)"/>
<g transform="translate(575.3 755.5) scale(0.9 1)"><text class="sa" x="-9.4" y="8.6" font-size="24" fill="#061428" stroke="#061428" stroke-width="0.9" filter="url(#tb)">O<tspan font-size="12" dx="0.5" dy="5" stroke-width="0.3" fill="#0c2a50">2</tspan></text></g>
<circle cx="154.0" cy="805.5" r="16.6" fill="url(#ball)" filter="url(#tb2)"/>
<circle cx="125.7" cy="801.8" r="16.6" fill="url(#ball)" filter="url(#tb2)"/>
<g transform="translate(130.6 797.2) scale(0.9 1)"><text class="sa" x="-9.4" y="8.6" font-size="24" fill="#061428" stroke="#061428" stroke-width="0.9" filter="url(#tb)">O<tspan font-size="12" dx="0.5" dy="5" stroke-width="0.3" fill="#0c2a50">2</tspan></text></g>
<circle cx="293.9" cy="839.2" r="16.6" fill="url(#ball)" filter="url(#tb2)"/>
<circle cx="265.8" cy="831.6" r="16.6" fill="url(#ball)" filter="url(#tb2)"/>
<g transform="translate(273.1 830.5) scale(0.9 1)"><text class="sa" x="-9.4" y="8.6" font-size="24" fill="#061428" stroke="#061428" stroke-width="0.9" filter="url(#tb)">O<tspan font-size="12" dx="0.5" dy="5" stroke-width="0.3" fill="#0c2a50">2</tspan></text></g>
<rect x="194.2" y="794.0" width="460.3" height="118.6" fill="none" stroke="#f41414" stroke-width="3.8"/>
<rect x="252.8" y="940.7" width="401.3" height="94.6" fill="none" stroke="#0a0a0a" stroke-width="4.2"/>
<text class="se" x="673.7" y="871.5" font-size="44.0" fill="#111" textLength="135.5" lengthAdjust="spacingAndGlyphs" stroke="#111" stroke-width="0.4" filter="url(#tb)" xml:space="preserve">surface</text>
<text class="se" x="816.9" y="871.5" font-size="44.0" fill="#111" textLength="77.1" lengthAdjust="spacingAndGlyphs" stroke="#111" stroke-width="0.4" filter="url(#tb)" xml:space="preserve">with</text>
<text class="se" x="903.6" y="871.5" font-size="44.0" fill="#111" textLength="96.9" lengthAdjust="spacingAndGlyphs" stroke="#111" stroke-width="0.4" filter="url(#tb)" xml:space="preserve">oxide</text>
<text class="se" x="1012.6" y="871.5" font-size="44.0" fill="#111" textLength="83.3" lengthAdjust="spacingAndGlyphs" stroke="#111" stroke-width="0.4" filter="url(#tb)" xml:space="preserve">layer</text>
<text class="se" x="673.7" y="990.9" font-size="44.0" fill="#111" textLength="126.1" lengthAdjust="spacingAndGlyphs" stroke="#111" stroke-width="0.4" filter="url(#tb)" xml:space="preserve">surface</text>
<text class="se" x="810.7" y="990.9" font-size="44.0" fill="#111" textLength="82.0" lengthAdjust="spacingAndGlyphs" stroke="#111" stroke-width="0.4" filter="url(#tb)" xml:space="preserve">after</text>
<text class="se" x="903.6" y="990.9" font-size="44.0" fill="#111" textLength="96.9" lengthAdjust="spacingAndGlyphs" stroke="#111" stroke-width="0.4" filter="url(#tb)" xml:space="preserve">oxide</text>
<text class="se" x="1008.8" y="990.9" font-size="44.0" fill="#111" textLength="144.1" lengthAdjust="spacingAndGlyphs" stroke="#111" stroke-width="0.4" filter="url(#tb)" xml:space="preserve">removal</text>
<text class="se" x="107" y="735" font-size="41" fill="#111" stroke="#111" stroke-width="0.4" filter="url(#tb)">O<tspan font-size="29" dy="9">2</tspan></text>
<text class="se" x="98.3" y="888.8" font-size="41" fill="#111" stroke="#111" stroke-width="0.4" letter-spacing="0.6" filter="url(#tb)">SiO<tspan font-size="29" dy="9">2</tspan></text>
<text class="se" x="98.0" y="1067.2" font-size="42.0" fill="#111" textLength="134.5" lengthAdjust="spacingAndGlyphs" stroke="#111" stroke-width="0.4" filter="url(#tb)" xml:space="preserve">4H-SiC</text>
<clipPath id="cpp"><rect x="1268.7" y="562.6" width="689.3" height="520.0"/></clipPath>
<g clip-path="url(#cpp)" fill="none" stroke-width="3.3" stroke-linejoin="round" filter="url(#tb)">
<path d="M1268.5,765.6 C1269.6,766.8 1279.2,779.5 1282.0,779.7 C1284.8,779.9 1298.3,770.0 1302.3,767.6 C1306.3,765.2 1324.9,753.5 1330.5,750.6 C1336.1,747.7 1366.2,733.9 1370.0,732.3 C1373.8,730.7 1373.6,731.2 1375.7,731.7 C1377.8,732.2 1391.9,737.7 1395.4,738.5 C1398.9,739.3 1414.7,740.3 1418.0,740.8 C1421.3,741.3 1432.6,744.2 1434.9,745.0 C1437.2,745.8 1444.3,749.1 1446.2,750.6 C1448.1,752.1 1455.4,761.0 1457.5,763.3 C1459.6,765.6 1468.7,777.4 1471.0,778.0 C1473.3,778.6 1482.1,772.4 1485.7,770.4 C1489.3,768.4 1509.9,756.0 1513.9,753.5 C1517.9,751.0 1529.8,742.8 1533.6,740.8 C1537.4,738.8 1556.2,730.9 1559.0,730.0 C1561.8,729.1 1565.4,729.5 1567.5,730.0 C1569.6,730.5 1581.7,735.5 1584.4,736.5 C1587.1,737.5 1597.8,741.0 1600.0,741.6 C1602.2,742.2 1608.5,743.4 1611.3,743.6 C1614.1,743.8 1630.8,743.4 1633.9,743.6 C1637.0,743.8 1645.2,745.4 1648.0,746.4 C1650.8,747.4 1664.2,753.8 1667.7,755.4 C1671.2,757.0 1687.0,764.6 1690.3,766.2 C1693.6,767.8 1705.1,773.1 1707.2,774.6 C1709.3,776.1 1714.2,782.7 1715.7,784.5 C1717.2,786.3 1722.4,795.8 1725.0,795.8 C1727.6,795.8 1741.8,787.3 1746.7,784.5 C1751.6,781.7 1776.8,765.9 1783.4,761.9 C1790.0,757.9 1819.8,739.8 1825.7,736.5 C1831.6,733.2 1850.0,724.4 1853.9,722.4 C1857.8,720.4 1869.9,713.5 1872.2,712.6 C1874.5,711.7 1880.1,711.8 1882.1,712.0 C1884.1,712.2 1893.6,714.5 1896.2,715.4 C1898.8,716.3 1910.0,720.9 1913.1,722.4 C1916.2,723.9 1930.1,731.8 1932.9,733.7 C1935.7,735.6 1944.9,743.3 1947.0,745.0 C1949.1,746.7 1956.8,753.5 1957.7,754.3" stroke="#1e6fe8"/>
<path d="M1268.5,850.2 C1271.8,852.2 1281.2,858.2 1288.2,862.1 C1295.2,866.0 1304.2,871.0 1310.8,873.4 C1317.4,875.8 1322.5,876.5 1327.7,876.7 C1332.9,876.9 1336.6,876.4 1341.8,874.8 C1347.0,873.2 1352.8,869.8 1358.7,867.1 C1364.6,864.4 1372.8,860.0 1377.0,858.7 C1381.2,857.4 1380.1,857.6 1384.1,859.3 C1388.1,861.0 1394.4,865.1 1401.0,869.1 C1407.6,873.1 1416.1,879.0 1423.6,883.2 C1431.1,887.4 1439.2,891.7 1446.2,894.5 C1453.2,897.3 1460.3,899.4 1465.9,900.2 C1471.5,901.0 1475.8,900.2 1480.0,899.3 C1484.2,898.3 1487.1,897.6 1491.3,894.5 C1495.5,891.4 1500.2,885.6 1505.4,880.4 C1510.6,875.2 1516.7,868.0 1522.3,863.5 C1527.9,859.0 1534.1,856.0 1539.3,853.6 C1544.5,851.2 1549.7,850.0 1553.4,849.4 C1557.2,848.8 1558.0,849.0 1561.8,850.2 C1565.5,851.4 1569.5,853.5 1575.9,856.4 C1582.3,859.3 1593.2,864.8 1600.0,867.7 C1606.8,870.6 1611.2,872.7 1616.9,873.9 C1622.6,875.1 1628.7,875.6 1633.9,874.8 C1639.1,874.0 1643.3,871.1 1648.0,869.1 C1652.7,867.1 1657.9,863.8 1662.1,862.6 C1666.3,861.4 1669.1,861.2 1673.3,862.1 C1677.5,863.0 1680.8,865.0 1687.4,868.3 C1694.0,871.6 1704.8,877.8 1712.8,881.8 C1720.8,885.8 1728.8,889.9 1735.4,892.5 C1742.0,895.1 1746.7,896.5 1752.3,897.3 C1757.9,898.1 1764.6,898.2 1769.3,897.3 C1774.0,896.4 1775.8,895.2 1780.5,891.7 C1785.2,888.2 1791.8,881.4 1797.5,876.2 C1803.2,871.0 1808.3,865.4 1814.4,860.7 C1820.5,856.0 1828.0,850.8 1834.1,848.0 C1840.2,845.2 1846.4,844.2 1851.1,843.7 C1855.8,843.2 1857.1,843.2 1862.3,845.1 C1867.5,847.0 1875.0,851.5 1882.1,855.0 C1889.2,858.5 1897.7,863.0 1904.7,866.3 C1911.8,869.6 1918.8,873.1 1924.4,874.8 C1930.0,876.5 1934.3,876.7 1938.5,876.7 C1942.7,876.7 1946.6,875.6 1949.8,874.8 C1953.0,874.0 1956.4,872.4 1957.7,871.9" stroke="#f04040"/>
<path d="M1268.5,985.6 C1271.8,986.1 1281.6,988.1 1288.2,988.4 C1294.8,988.7 1301.0,988.7 1308.0,987.6 C1315.0,986.5 1323.0,983.9 1330.5,982.0 C1338.0,980.1 1346.5,977.7 1353.1,976.3 C1359.7,974.9 1362.0,974.0 1370.0,973.5 C1378.0,973.0 1393.0,972.9 1401.0,973.5 C1409.0,974.1 1411.4,975.3 1418.0,977.2 C1424.6,979.1 1433.9,982.8 1440.5,984.8 C1447.1,986.8 1452.3,988.1 1457.5,989.0 C1462.7,989.9 1466.9,990.6 1471.6,990.4 C1476.3,990.2 1479.6,989.3 1485.7,987.6 C1491.8,985.9 1500.7,982.5 1508.2,980.0 C1515.7,977.5 1522.8,974.6 1530.8,972.7 C1538.8,970.8 1549.2,969.4 1556.2,968.7 C1563.2,968.0 1567.0,968.1 1573.1,968.7 C1579.2,969.3 1586.5,971.0 1592.9,972.1 C1599.3,973.2 1602.1,975.0 1611.3,975.5 C1620.5,976.0 1637.2,975.7 1648.0,974.9 C1658.8,974.1 1669.2,971.5 1676.2,970.7 C1683.2,969.9 1684.2,969.8 1690.3,970.1 C1696.4,970.4 1704.3,971.2 1712.8,972.7 C1721.2,974.2 1730.7,977.0 1741.0,979.1 C1751.3,981.2 1765.5,983.9 1774.9,985.6 C1784.3,987.4 1790.5,988.5 1797.5,989.6 C1804.5,990.7 1808.8,992.0 1817.2,992.4 C1825.7,992.8 1839.7,992.7 1848.2,991.8 C1856.7,990.9 1861.4,988.5 1868.0,986.8 C1874.6,985.1 1880.7,982.9 1887.7,981.4 C1894.8,979.9 1901.8,978.3 1910.3,977.7 C1918.8,977.1 1930.6,977.3 1938.5,977.7 C1946.4,978.1 1954.5,979.6 1957.7,980.0" stroke="#474747"/>
</g>
<rect x="1268.7" y="562.6" width="689.3" height="520.0" fill="none" stroke="#0a0a0a" stroke-width="3.4"/>
<line x1="1268.7" y1="1082.6" x2="1268.7" y2="1072.6" stroke="#0a0a0a" stroke-width="2.6"/>
<line x1="1383.6" y1="1082.6" x2="1383.6" y2="1077.1" stroke="#0a0a0a" stroke-width="2.6"/>
<line x1="1498.5" y1="1082.6" x2="1498.5" y2="1072.6" stroke="#0a0a0a" stroke-width="2.6"/>
<line x1="1613.3" y1="1082.6" x2="1613.3" y2="1077.1" stroke="#0a0a0a" stroke-width="2.6"/>
<line x1="1728.2" y1="1082.6" x2="1728.2" y2="1072.6" stroke="#0a0a0a" stroke-width="2.6"/>
<line x1="1843.1" y1="1082.6" x2="1843.1" y2="1077.1" stroke="#0a0a0a" stroke-width="2.6"/>
<line x1="1958.0" y1="1082.6" x2="1958.0" y2="1072.6" stroke="#0a0a0a" stroke-width="2.6"/>
<text class="se" x="1268.7" y="1115" font-size="26" fill="#111" stroke="#111" stroke-width="0.35" text-anchor="middle" filter="url(#tb)">2000</text>
<text class="se" x="1498.5" y="1115" font-size="26" fill="#111" stroke="#111" stroke-width="0.35" text-anchor="middle" filter="url(#tb)">3000</text>
<text class="se" x="1728.2" y="1115" font-size="26" fill="#111" stroke="#111" stroke-width="0.35" text-anchor="middle" filter="url(#tb)">4000</text>
<text class="se" x="1958.0" y="1115" font-size="26" fill="#111" stroke="#111" stroke-width="0.35" text-anchor="middle" filter="url(#tb)">5000</text>
<text class="se" x="1462.1" y="1162.3" font-size="31.0" fill="#111" textLength="302.6" lengthAdjust="spacingAndGlyphs" stroke="#111" stroke-width="0.4" filter="url(#tb)" xml:space="preserve">horizontal distance (nm)</text>
<text class="se" transform="translate(1235 962.3) rotate(-90)" font-size="31" fill="#111" textLength="276" lengthAdjust="spacingAndGlyphs" stroke="#111" stroke-width="0.4" filter="url(#tb)">vertical distance (nm)</text>
<rect x="1280.7" y="607.0" width="59.3" height="2.8" fill="#1e6fe8" filter="url(#tb)"/>
<rect x="1280.7" y="640.3" width="59.3" height="2.8" fill="#f04040" filter="url(#tb)"/>
<rect x="1280.7" y="672.6" width="59.3" height="2.8" fill="#474747" filter="url(#tb)"/>
<text class="se" x="1346.7" y="616.0" font-size="26.2" fill="#111" textLength="180.0" lengthAdjust="spacingAndGlyphs" stroke="#111" stroke-width="0.4" filter="url(#tb)" xml:space="preserve">as-grown surface</text>
<text class="se" x="1346.7" y="650.0" font-size="26.2" fill="#111" textLength="252.8" lengthAdjust="spacingAndGlyphs" stroke="#111" stroke-width="0.4" filter="url(#tb)" xml:space="preserve">surface with oxide layer</text>
<text class="se" x="1346.7" y="682.7" font-size="26.2" fill="#111" textLength="286.0" lengthAdjust="spacingAndGlyphs" stroke="#111" stroke-width="0.4" filter="url(#tb)" xml:space="preserve">surface after oxide removal</text>
<text class="se" x="1598.5" y="602.7" font-size="27.0" fill="#111" textLength="345.8" lengthAdjust="spacingAndGlyphs" stroke="#111" stroke-width="0.4" filter="url(#tb)" xml:space="preserve">1300°C, 8 hours, low pressure</text>
<text class="se" x="1271.3" y="810.7" font-size="26.2" fill="#111" textLength="156.5" lengthAdjust="spacingAndGlyphs" stroke="#111" stroke-width="0.4" filter="url(#tb)" xml:space="preserve">RMS = 9.3 nm</text>
<text class="se" x="1271.3" y="914.3" font-size="26.2" fill="#111" textLength="156.5" lengthAdjust="spacingAndGlyphs" stroke="#111" stroke-width="0.4" filter="url(#tb)" xml:space="preserve">RMS = 9.0 nm</text>
<text class="se" x="1271.3" y="1013.0" font-size="26.2" fill="#111" textLength="156.5" lengthAdjust="spacingAndGlyphs" stroke="#111" stroke-width="0.4" filter="url(#tb)" xml:space="preserve">RMS = 6.1 nm</text>
</svg>
</body></html>
